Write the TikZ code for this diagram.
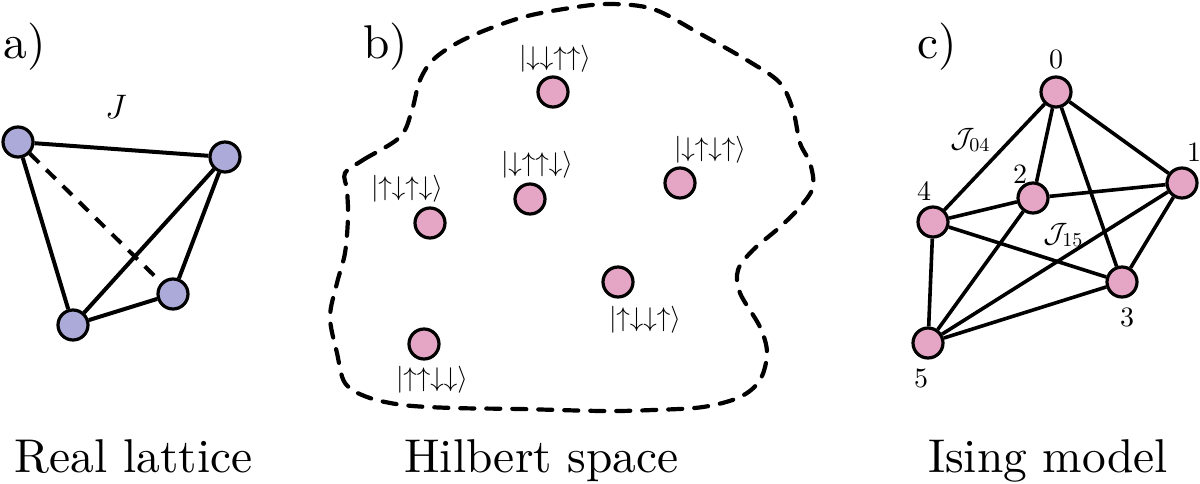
\RequirePackage{fix-cm}
\documentclass[tikz,border=0pt]{standalone}
\usepackage{fontspec}
\setmainfont{lmroman10-regular}[Extension=.otf]
\definecolor{lav}{RGB}{172,170,216}
\definecolor{pinkn}{RGB}{228,166,196}
\begin{document}
\begin{tikzpicture}[x=0.5pt,y=-0.5pt,
  vtx/.style={circle,draw=black,line width=1.6pt,minimum size=15pt,inner sep=0pt},
  lat/.style={vtx,fill=lav},
  st/.style={vtx,fill=pinkn},
  edgea/.style={line width=2pt},
  edgec/.style={line width=1.8pt},
  title/.style={font=\fontsize{23.7}{28}\selectfont,anchor=base,inner sep=0pt},
  plabel/.style={font=\fontsize{23.7}{28}\selectfont,anchor=base west,inner sep=0pt},
  ket/.style={font=\fontsize{13.5}{16}\selectfont,inner sep=0pt},
  num/.style={font=\fontsize{14}{16}\selectfont,inner sep=0pt},
  coup/.style={font=\fontsize{14}{16}\selectfont,inner sep=0pt,anchor=base west}]
\useasboundingbox (0,0) rectangle (1200,483);

% ---------- panel a ----------
\node[plabel] (la) at (3,58) {a)};
\node[lat] (A) at (18,142) {};
\node[lat] (B) at (225,157) {};
\node[lat] (C) at (173,294) {};
\node[lat] (D) at (73,325) {};
\draw[edgea] (A) -- (B);
\draw[edgea] (A) -- (D);
\draw[edgea] (B) -- (D);
\draw[edgea] (B) -- (C);
\draw[edgea] (D) -- (C);
\draw[edgea,dash pattern=on 6.5pt off 5pt] (A) -- (C);
\node[font=\fontsize{17}{19}\selectfont,inner sep=0pt,anchor=base] (J) at (116,118) {$J$};
\node[title] (ta) at (133.5,472) {Real lattice};

% ---------- panel b ----------
\node[plabel] (lb) at (363,58) {b)};
\draw[line width=2.1pt,dash pattern=on 7pt off 6pt,line cap=round]
  plot[smooth cycle,tension=0.55] coordinates {
  (345,173) (363,160) (400,137) (412,110) (420,80) (435,58) (467,38) (520,18)
  (570,8) (610,4) (653,9) (697,32) (750,62) (780,83) (793,110) (800,143)
  (810,163) (813,187) (800,207) (780,227) (753,250) (738,270) (740,293)
  (760,327) (767,353) (760,380) (740,397) (703,407) (653,410) (603,411)
  (520,409) (453,408) (403,405) (367,397) (345,383) (337,353) (330,317)
  (337,283) (345,253) (348,217) (347,190)};
\node[st] (s1) at (553,92) {};
\node[st] (s2) at (430,223) {};
\node[st] (s3) at (530,199) {};
\node[st] (s4) at (680,183) {};
\node[st] (s5) at (618,282) {};
\node[st] (s6) at (424,344) {};
\node[ket] (k1) at (555,58.5) {$|{\downarrow}{\downarrow}{\uparrow}{\uparrow}\rangle$};
\node[ket] (k2) at (407,188.5) {$|{\uparrow}{\downarrow}{\uparrow}{\downarrow}\rangle$};
\node[ket] (k3) at (537,165) {$|{\downarrow}{\uparrow}{\uparrow}{\downarrow}\rangle$};
\node[ket] (k4) at (710,150) {$|{\downarrow}{\uparrow}{\downarrow}{\uparrow}\rangle$};
\node[ket] (k5) at (645,319.5) {$|{\uparrow}{\downarrow}{\downarrow}{\uparrow}\rangle$};
\node[ket] (k6) at (432,380) {$|{\uparrow}{\uparrow}{\downarrow}{\downarrow}\rangle$};
\node[title] (tb) at (541.5,472) {Hilbert space};

% ---------- panel c ----------
\node[plabel] (lc) at (917,58) {c)};
\node[st] (n0) at (1056,92) {};
\node[st] (n1) at (1182,183) {};
\node[st] (n2) at (1033,198) {};
\node[st] (n3) at (1122,282) {};
\node[st] (n4) at (933,222) {};
\node[st] (n5) at (928,343) {};
\foreach \a/\b in {0/4,0/2,0/3,0/1,4/2,2/1,4/3,4/5,2/5,1/5,1/3,3/5}
  \draw[edgec] (n\a) -- (n\b);
\node[num] (m0) at (1056,59) {0};
\node[num] (m1) at (1194,152) {1};
\node[num] (m2) at (1020,174) {2};
\node[num] (m3) at (1127,317) {3};
\node[num] (m4) at (924,191) {4};
\node[num] (m5) at (921,378) {5};
\node[coup] (j04) at (950,147) {$\mathcal{J}_{04}$};
\node[coup] (j15) at (1043,242) {$\mathcal{J}_{15}$};
\node[title] (tc) at (1048,472) {Ising model};
\end{tikzpicture}
\end{document}
